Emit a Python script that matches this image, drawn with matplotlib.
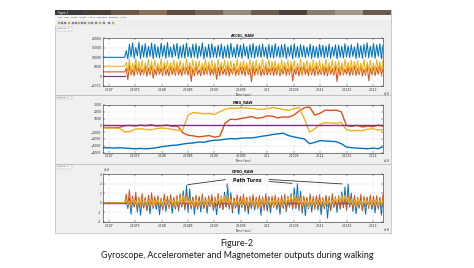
import numpy as np
import matplotlib
matplotlib.use("Agg")
import matplotlib.pyplot as plt
from matplotlib.patches import Rectangle
from matplotlib.ticker import FixedLocator, FuncFormatter

W, H = 474, 268

# ---------------- data ----------------
x_ticks = [2.107, 2.1075, 2.108, 2.1085, 2.109, 2.1095, 2.11, 2.1105, 2.111, 2.1115, 2.112]
x_left, x_right = 2.10689, 2.11219

# accelerometer / gyro: rest values before walking, then alternating peaks / troughs
walk_start = 2.1073
walk_dt = 0.00003

accel_rest = {"blue": 10000, "orange": 2400, "yellow": 5400, "purple": 300}
accel_blue_pk = [13500, 16800, 17600, 15200, 17900, 16400, 17200, 15800, 17500, 16900,
                 15600, 17400, 16200, 17800, 15400, 16700, 17300, 15900, 16600, 17500,
                 15300, 16900, 17100, 16000, 17600, 15500, 16800, 17200, 15700, 16400,
                 17000, 15800, 16600, 17400, 15200, 16900, 16300, 17100, 15600, 16700,
                 17300, 15900, 16500, 17000, 15400, 16800, 16200, 17200, 15700, 16600,
                 16900, 15500, 16400, 17100, 15800, 16700, 16200, 15400, 16900, 16100,
                 15600, 16800, 16300, 15900, 17000, 15500, 16600, 16400, 15800, 17200,
                 16000, 16700, 15600, 17400, 16200, 16800, 17600, 15900, 17300, 16600,
                 17100, 16500]
accel_blue_tr = [9200, 10400, 9600, 10800, 9400, 10200, 9800, 10600, 9300, 10100,
                 9700, 10500, 9500, 10300, 9900, 10700, 9400, 10000, 9600, 10400,
                 9800, 10200, 9500, 10600, 9300, 10100, 9700, 10300, 9900, 10500,
                 9400, 10000, 9600, 10400, 9800, 10200, 9500, 10700, 9300, 10100,
                 9700, 10300, 9900, 10500, 9400, 10000, 9600, 10400, 9800, 10200,
                 9500, 10600, 9300, 10100, 9700, 10300, 9900, 10500, 9400, 10000,
                 9600, 10400, 9800, 10200, 9500, 10600, 9300, 10100, 9700, 10300,
                 9900, 10500, 9400, 10000, 9600, 10400, 9800, 10200, 9500, 10600,
                 9300, 10100]
accel_yellow_pk = [7400, 8900, 6800, 9300, 7600, 8400, 7100, 9000, 7800, 8600,
                   6900, 9200, 7500, 8300, 7200, 8800, 7700, 8500, 7000, 9100,
                   7300, 8700, 7900, 8200, 6800, 9000, 7600, 8400, 7100, 8900,
                   7400, 8600, 7800, 8100, 7000, 9200, 7500, 8300, 7200, 8800,
                   7700, 8500, 6900, 9000, 7300, 8700, 7900, 8200, 7100, 8900,
                   7400, 8600, 7800, 8300, 7000, 9100, 7500, 8400, 7200, 8800,
                   7600, 8500, 6900, 9000, 7300, 8700, 7800, 8200, 7100, 8900,
                   7400, 8600, 7900, 8300, 7000, 9200, 7500, 8400, 7200, 8800,
                   7700, 8500]
accel_yellow_tr = [2600, 1800, 3200, 2200, 2900, 1600, 3400, 2400, 2000, 3100,
                   2700, 1900, 3300, 2300, 2800, 1700, 3000, 2500, 2100, 3200,
                   2600, 1800, 3400, 2200, 2900, 2000, 3100, 2400, 1700, 3300,
                   2700, 1900, 3000, 2300, 2800, 1600, 3200, 2500, 2100, 3400,
                   2600, 1800, 3100, 2200, 2900, 2000, 3300, 2400, 1700, 3000,
                   2700, 1900, 3200, 2300, 2800, 1600, 3400, 2500, 2100, 3100,
                   2600, 1800, 3300, 2200, 2900, 2000, 3000, 2400, 1700, 3200,
                   2700, 1900, 3400, 2300, 2800, 1600, 3100, 2500, 2100, 3300,
                   2600, 1800]
accel_orange_pk = [4200, 5800, 3600, 6200, 4800, 3900, 5500, 4400, 6000, 3700,
                   5200, 4600, 5900, 3800, 5400, 4300, 6100, 3900, 5000, 4700,
                   5600, 4100, 5800, 3600, 5300, 4500, 6000, 4000, 5100, 4800,
                   5700, 3800, 5500, 4200, 6200, 3900, 4900, 4600, 5800, 4100,
                   5300, 4400, 6000, 3700, 5600, 4300, 5100, 4800, 5900, 3900,
                   5400, 4200, 6100, 3800, 5000, 4700, 5700, 4000, 5500, 4500,
                   6000, 3600, 5200, 4900, 5800, 4100, 5300, 4400, 6200, 3900,
                   5000, 4600, 5700, 4200, 5500, 3800, 6000, 4300, 5100, 4700,
                   5800, 4000]
accel_orange_tr = [-1800, 800, 400, 1200, 600, 1000, 200, 900, -900, 700,
                   1100, 500, 800, 300, 1000, 600, 900, 400, 1200, 700,
                   -2600, 500, 1000, 300, 800, 1100, 600, 900, -1500, 400,
                   1000, 700, 300, 1200, 500, 800, 1000, 400, 900, -2800,
                   600, 1100, 300, 800, 700, 1000, 500, 900, 400, 1200,
                   600, 800, -2400, 1000, 300, 700, 1100, 500, 900, 400,
                   800, 1000, 600, 300, 1200, 700, -2700, 500, 900, 1100,
                   400, 800, 600, 1000, 300, 700, -2200, 900, 500, 1100,
                   800, 600]
# purple trace is only visible before walking starts (hidden afterwards)
accel_purple_level = [300, 300]

# magnetometer: sampled every 0.0001 from 2.1069
mag_start, mag_dt = 2.1069, 0.0001
mag_yellow = [-400, -400, -420, -450, -950, -900, -550, -500, -600, -650,
              -500, -380, -450, -600, -750, -650, 1500, 1900, 1800, 1700,
              1750, 1600, 2000, 2350, 2550, 2500, 2600, 2550, 2500, 2400,
              2350, 2450, 2650, 2500, 2350, 2200, 2450, 2650, 1000, -1000,
              -500, 150, 400, 350, 300, 430, -650, -800, -750, -800,
              -550, -500, -700, -600]
mag_orange = [-320, -320, -330, -300, -50, 0, -100, 50, -50, 100,
              -100, -50, 50, -150, -100, -1100, -1450, -1550, -1700, -1600,
              -1500, -1750, -1600, 300, 900, 850, 1000, 1150, 1300, 1050,
              1150, 1400, 1350, 1100, 1250, 1200, 1500, 2100, 2600, 2700,
              1500, 1800, 2250, 2200, 2250, 2000, -50, -150, 0, -250,
              -100, -200, 50, -150]
mag_blue = [-3300, -3300, -3350, -3300, -3350, -3400, -3450, -3400, -3450, -3400,
            -3300, -3150, -3050, -2950, -2900, -2750, -2650, -2600, -2450, -2500,
            -2300, -2200, -2150, -2050, -1950, -2000, -1900, -1850, -1850, -1750,
            -1600, -1500, -1350, -1250, -1150, -1500, -1700, -1850, -2000, -2700,
            -2500, -2250, -2300, -2350, -2400, -2700, -3200, -3300, -3350, -3400,
            -3450, -3350, -3450, -3100]
mag_purple_level = [0, 0]

gyro_rest = 0
gyro_blue_pk = [3000, 5500, 2500, 6000, 4000, 2800, 5200, 3500, 6400, 3000,
                4800, 2600, 5600, 3800, 4400, 3100, 5000, 8000, 12500, 18000,
                14500, 6000, 3500, 5200, 2900, 4600, 3700, 5800, 3200, 4100,
                6200, 11000, 17000, 10500, 4500, 3000, 5400, 3600, 4900, 2700,
                5700, 3300, 4300, 6100, 2900, 5000, 3800, 4600, 3100, 5500,
                4200, 6500, 9500, 15500, 20000, 12000, 5000, 3400, 4800, 2800,
                5600, 3600, 4400, 6000, 3000, 5200, 4100, 7000, 11500, 16500,
                19500, 10000, 4700, 3200, 5300, 3900, 4500, 6200, 3100, 5000,
                4300, 5800]
gyro_blue_tr = [-6000, -12000, -4000, -9500, -13000, -5000, -8000, -11500, -4500, -7000,
                -12500, -5500, -9000, -3500, -11000, -6500, -8500, -4000, -7500, -10000,
                -5500, -12000, -4500, -9500, -6000, -11000, -3800, -8000, -12500, -5000,
                -7000, -4200, -6500, -10500, -5500, -12000, -4800, -9000, -11500, -6000,
                -7500, -4000, -13000, -5200, -8500, -10500, -4600, -7200, -12000, -5800,
                -9000, -4400, -6800, -5000, -8000, -11000, -13500, -6200, -9500, -4000,
                -7600, -12500, -5400, -16000, -8200, -4800, -10000, -6500, -5200, -7800,
                -4600, -9000, -11500, -5600, -8400, -12000, -4200, -7000, -10500, -5000,
                -13000, -6000]
gyro_orange_pk = [9000, 13500, 7000, 11000, 6000, 9500, 5500, 8000, 10500, 6500,
                  7500, 5000, 9000, 6800, 8500, 5800, 7800, 9500, 6200, 8800,
                  7000, 5400, 8200, 6600, 9200, 5600, 7400, 8600, 6000, 9800,
                  7200, 8000, 6400, 7600, 5200, 8400, 6800, 9000, 5800, 7000,
                  8800, 6200, 7800, 5400, 9400, 6600, 7200, 8200, 5600, 7600,
                  9000, 6400, 7400, 8600, 6000, 8000, 7000, 5800, 9200, 6800,
                  7400, 8400, 5400, 7800, 6600, 9600, 6200, 7200, 8000, 5600,
                  8800, 6400, 7600, 5800, 9000, 7000, 6000, 8200, 6800, 7400,
                  5800, 8600]
gyro_orange_tr = [-3000, -6000, -4500, -7000, -3500, -5500, -8000, -4000, -6500, -3000,
                  -5000, -7500, -4200, -6000, -3600, -5400, -7000, -4400, -5800, -3200,
                  -6600, -4800, -7200, -3800, -5200, -6400, -4000, -7600, -3400, -5600,
                  -6800, -4600, -5000, -7400, -3600, -6200, -4200, -5800, -7000, -3800,
                  -5400, -6600, -4400, -7800, -3200, -6000, -4800, -5200, -6800, -4000,
                  -7200, -3600, -5600, -6400, -4600, -8200, -3800, -6000, -5000, -7000,
                  -4200, -5800, -6600, -3400, -7400, -4400, -5400, -6200, -4000, -7000,
                  -3600, -6400, -5200, -4800, -7600, -3800, -6000, -5600, -4200, -6800,
                  -5000, -6200]
gyro_yellow_pk = [3000, 2000, 4000, 2500, 3500, 1800, 3200, 2800, 4200, 2200,
                  3600, 2400, 3000, 2000, 3800, 2600, 4500, 6000, 7500, 6500,
                  4000, 2800, 3400, 2200, 3000, 2600, 3600, 2000, 3200, 4500,
                  6000, 7000, 6500, 3800, 2400, 3000, 2000, 3400, 2800, 3600,
                  2200, 3000, 2600, 3800, 2000, 3200, 2800, 3400, 2400, 3000,
                  4000, 5500, 7000, 8000, 6500, 4500, 3000, 2400, 3600, 2200,
                  3200, 2800, 3400, 2000, 3000, 2600, 4200, 5800, 7200, 7800,
                  6000, 4000, 2800, 3400, 2200, 3000, 2600, 3600, 2400, 3200,
                  2800, 3000]
gyro_yellow_tr = [-2000, -3000, -1500, -2500, -3500, -1800, -2800, -2200, -3200, -1600,
                  -2600, -3000, -2000, -2400, -1800, -3400, -2200, -1000, 0, -500,
                  -2800, -3200, -2000, -2600, -1800, -3000, -2400, -2000, -1500, -1000,
                  0, 500, -800, -2400, -3000, -2200, -2600, -1800, -3200, -2000,
                  -2800, -2400, -3400, -1600, -2600, -2000, -3000, -2200, -1800, -2800,
                  -1200, 0, 800, 1000, -500, -2400, -3200, -5000, -2600, -2000,
                  -2800, -1800, -3000, -2200, -2600, -1400, -500, 500, 1000, 800,
                  -600, -2400, -3000, -2000, -2600, -1800, -3200, -2400, -2000, -2800,
                  -2200, -2600]
gyro_purple_level = [0, 0]

accel_yticks = [-5000, 0, 5000, 10000, 15000, 20000]
mag_yticks = [-4000, -3000, -2000, -1000, 0, 1000, 2000, 3000]
gyro_yticks = [-20000, -10000, 0, 10000, 20000, 30000]

titles = ["ACCEL_RAW", "MAG_RAW", "GYRO_RAW"]
caption_1 = "Figure-2"
caption_2 = "Gyroscope, Accelerometer and Magnetometer outputs during walking"
annot_text = "Path Turns"
turn_times = [2.10844, 2.10923, 2.11052, 2.11147]
turn_values = [18500, 17000, 20000, 19500]

C_BLUE, C_ORANGE, C_YELLOW, C_PURPLE = "#0072BD", "#D95319", "#EDB120", "#7E2F8E"

# ---------------- helpers ----------------
def walk_series(rest, pk, tr):
    vals = np.column_stack([pk, tr]).ravel()
    t = walk_start + walk_dt * np.arange(1, len(vals) + 1)
    t = np.concatenate([[x_left, walk_start], t])
    v = np.concatenate([[rest, rest], vals])
    return t, v

def rect(x0, y0, x1, y1):
    return [x0 / W, 1 - y1 / H, (x1 - x0) / W, (y1 - y0) / H]

fig = plt.figure(figsize=(W / 100, H / 100), dpi=100)
fig.patch.set_facecolor("white")

bg = fig.add_axes([0, 0, 1, 1])
bg.set_xlim(0, W)
bg.set_ylim(H, 0)
bg.axis("off")
bg.set_zorder(-5)

# window chrome
WL, WR = 55, 391
for (y0, y1) in [(10, 94.5), (94.5, 164), (164, 233)]:
    bg.add_patch(Rectangle((WL, y0), WR - WL, y1 - y0, facecolor="#f0f0f0",
                           edgecolor="#b8b8b8", lw=0.5))
# title bar
bar_cols = ["#3b3b3b", "#4a4036", "#6b5544", "#8c7058", "#5e4c3e", "#7a6656", "#9a8a7a",
            "#6d5b4c", "#4d4038", "#8b7b6a", "#a59785", "#6a5a4c"]
seg = (WR - WL) / len(bar_cols)
for i, c in enumerate(bar_cols):
    bg.add_patch(Rectangle((WL + i * seg, 10), seg + 0.3, 5, facecolor=c, edgecolor="none"))
bg.text(58, 12.6, "Figure 1", fontsize=1.8, color="white", va="center")
bg.add_patch(Rectangle((WL, 15), WR - WL, 5, facecolor="#f5f5f5", edgecolor="none"))
bg.text(58, 17.5, "File   Edit   View   Insert   Tools   Desktop   Window   Help",
        fontsize=1.7, color="#333333", va="center")
bg.add_patch(Rectangle((WL, 20), WR - WL, 6, facecolor="#eeeeee", edgecolor="none"))
for i, xx in enumerate([58, 61, 64, 68, 72, 75, 78, 81, 84, 88, 91, 95, 99, 103, 108, 112]):
    bg.add_patch(Rectangle((xx, 21.5), 2.2, 2.6, facecolor=["#e8b84a", "#6b8fbf", "#888888"][i % 3],
                           edgecolor="#777777", lw=0.2))
for ty in [27, 95.5, 165]:
    bg.add_patch(Rectangle((57, ty), 15, 3.6, facecolor="#fafafa", edgecolor="#aaaaaa", lw=0.3))
    bg.text(58.5, ty + 1.8, "Figure1  x", fontsize=1.6, color="#333333", va="center")

axes_rows = [(38.3, 86.0), (105.0, 152.5), (174.0, 222.0)]
axs = []
for (y0, y1) in axes_rows:
    ax = fig.add_axes(rect(103, y0, 383, y1))
    ax.set_facecolor("white")
    axs.append(ax)

xfmt = FuncFormatter(lambda v, p: f"{round(v, 4):g}")
for ax, title in zip(axs, titles):
    ax.set_xlim(x_left, x_right)
    ax.xaxis.set_major_locator(FixedLocator(x_ticks))
    ax.xaxis.set_major_formatter(xfmt)
    ax.tick_params(direction="in", length=1.2, width=0.3, labelsize=2.2, pad=1.2,
                   colors="#262626", top=True, right=True)
    ax.grid(True, color="#e4e4e4", lw=0.35)
    ax.set_axisbelow(True)
    for s in ax.spines.values():
        s.set_linewidth(0.4)
        s.set_color("#262626")
    ax.set_title(title, fontsize=2.6, fontweight="bold", pad=1.2, color="#1a1a1a")
    ax.set_xlabel("Time (sec)", fontsize=2.2, labelpad=0.8, color="#262626")
    ax.text(1.0, -0.1, "x10$^5$", transform=ax.transAxes, fontsize=1.9, ha="left", va="top",
            color="#262626")

# ---- accel ----
ax = axs[0]
ax.plot([x_left, walk_start], accel_purple_level, color=C_PURPLE, lw=0.8, zorder=1)
for rest_key, pk, tr, col in [("blue", accel_blue_pk, accel_blue_tr, C_BLUE),
                               ("orange", accel_orange_pk, accel_orange_tr, C_ORANGE),
                               ("yellow", accel_yellow_pk, accel_yellow_tr, C_YELLOW)]:
    t, v = walk_series(accel_rest[rest_key], pk, tr)
    ax.plot(t, v, color=col, lw=0.75, zorder=2)
ax.set_ylim(-5000, 20000)
ax.yaxis.set_major_locator(FixedLocator(accel_yticks))

# ---- mag ----
ax = axs[1]
tm = mag_start + mag_dt * np.arange(len(mag_blue))
ax.plot(tm, mag_blue, color=C_BLUE, lw=1.0)
ax.plot(tm, mag_orange, color=C_ORANGE, lw=1.0)
ax.plot(tm, mag_yellow, color=C_YELLOW, lw=1.0)
ax.plot([x_left, x_right], mag_purple_level, color=C_PURPLE, lw=1.0)
ax.set_ylim(-4000, 3000)
ax.yaxis.set_major_locator(FixedLocator(mag_yticks))

# ---- gyro ----
ax = axs[2]
ax.plot([x_left, x_right], gyro_purple_level, color=C_PURPLE, lw=1.0, zorder=1)
for pk, tr, col in [(gyro_blue_pk, gyro_blue_tr, C_BLUE),
                    (gyro_orange_pk, gyro_orange_tr, C_ORANGE),
                    (gyro_yellow_pk, gyro_yellow_tr, C_YELLOW)]:
    t, v = walk_series(gyro_rest, pk, tr)
    ax.plot(t, v, color=col, lw=0.7, zorder=2)
ax.set_ylim(-20000, 30000)
ax.yaxis.set_major_locator(FixedLocator(gyro_yticks))
ax.yaxis.set_major_formatter(FuncFormatter(lambda v, p: f"{v / 1e4:g}"))
ax.text(0.0, 1.01, "x10$^4$", transform=ax.transAxes, fontsize=1.9, ha="left", va="bottom",
        color="#262626")
# annotation
tx, ty = 2.10962, 23500
ax.text(tx, ty, annot_text, fontsize=3.4, fontweight="bold", ha="center", va="center",
        color="#111111", zorder=5)
for i, (tt, vv) in enumerate(zip(turn_times, turn_values)):
    sx = 2.10926 if i < 2 else 2.10998
    sy = 24500 if i in (0, 3) else 22500
    ax.annotate("", xy=(tt, vv), xytext=(sx, sy),
                arrowprops=dict(arrowstyle="-", color="#333333", lw=0.6), zorder=5)

# caption
cap1 = bg.text(237, 243.3, caption_1, ha="center", va="center", fontsize=8, family="Lato",
               color="#1a1a1a")
cap2 = bg.text(237, 255.5, caption_2, ha="center", va="center", fontsize=8, family="Lato",
               color="#1a1a1a")
fig.canvas.draw()
w = cap2.get_window_extent().width
fs = 8 * 275 / w
cap1.set_fontsize(fs)
cap2.set_fontsize(fs)

fig.savefig("out.png", dpi=100, facecolor="white")
